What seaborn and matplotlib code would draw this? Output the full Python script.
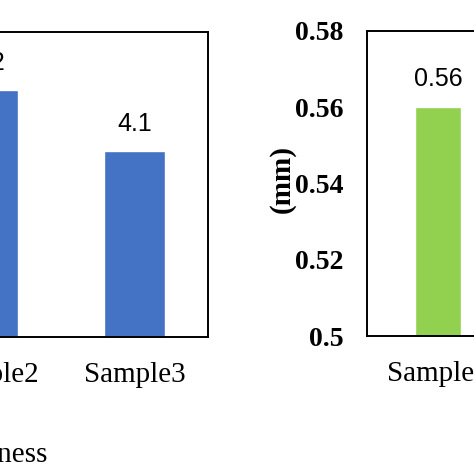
import pandas as pd
import matplotlib
matplotlib.use("Agg")
import matplotlib.pyplot as plt
import seaborn as sns

# visible part of the figure: panel (a) samples 2-3, panel (b) sample 1
left_samples = ["Sample2", "Sample3"]
left_values = [4.2, 4.1]
right_samples = ["Sample1"]
right_values = [0.56]
right_yticks = [0.5, 0.52, 0.54, 0.56, 0.58]

sns.set_style("white")
plt.rcParams["font.family"] = ["Liberation Serif", "DejaVu Serif"]
plt.rcParams["text.color"] = "black"
plt.rcParams["xtick.color"] = "black"
plt.rcParams["ytick.color"] = "black"

W = H = 474
fig = plt.figure(figsize=(4.74, 4.74), dpi=100)

# left panel (mostly outside the crop on the left)
ax1 = fig.add_axes([-233 / W, 1 - 337 / H, 441 / W, 305 / H])
df1 = pd.DataFrame({"sample": left_samples, "value": left_values})
sns.barplot(data=df1, x="sample", y="value", color="#4472C4", saturation=1,
            width=0.42, ax=ax1)
ax1.set_xlim(-1.5, 1.5)
ax1.set_ylim(3.795, 4.295)
ax1.bar_label(ax1.containers[0], fmt="%.1f", padding=11, fontsize=18,
              family="Liberation Sans", color="black")

# right panel (extends past the right edge)
ax2 = fig.add_axes([367 / W, 1 - 336 / H, 426 / W, 305 / H])
df2 = pd.DataFrame({"sample": right_samples, "value": right_values})
sns.barplot(data=df2, x="sample", y="value", color="#92D050", saturation=1,
            width=0.32, ax=ax2)
ax2.set_xlim(-0.5, 2.5)
ax2.set_ylim(0.5, 0.58)
ax2.set_yticks(right_yticks)
ax2.set_yticklabels(["0.5", "0.52", "0.54", "0.56", "0.58"])
ax2.bar_label(ax2.containers[0], fmt="%.2f", padding=12, fontsize=18,
              family="Liberation Sans", color="black")

for ax in (ax1, ax2):
    ax.set_xlabel("")
    ax.set_ylabel("")
    for s in ax.spines.values():
        s.set_visible(True)
        s.set_color("black")
        s.set_linewidth(1.4)
    ax.tick_params(axis="x", length=0, pad=18, labelsize=21, labelcolor="black")
    ax.tick_params(axis="y", length=0, pad=17, labelsize=20, labelcolor="black")
    for t in ax.get_yticklabels():
        t.set_fontweight("bold")

fig.text(282 / W, 1 - 179 / H, "(mm)", rotation=90, ha="center", va="center",
         fontsize=21, fontweight="bold")
fig.text(47 / W, 1 - 455 / H, "(a) Thickness", ha="right", va="center",
         fontsize=21)

fig.savefig("out.png", dpi=100)
